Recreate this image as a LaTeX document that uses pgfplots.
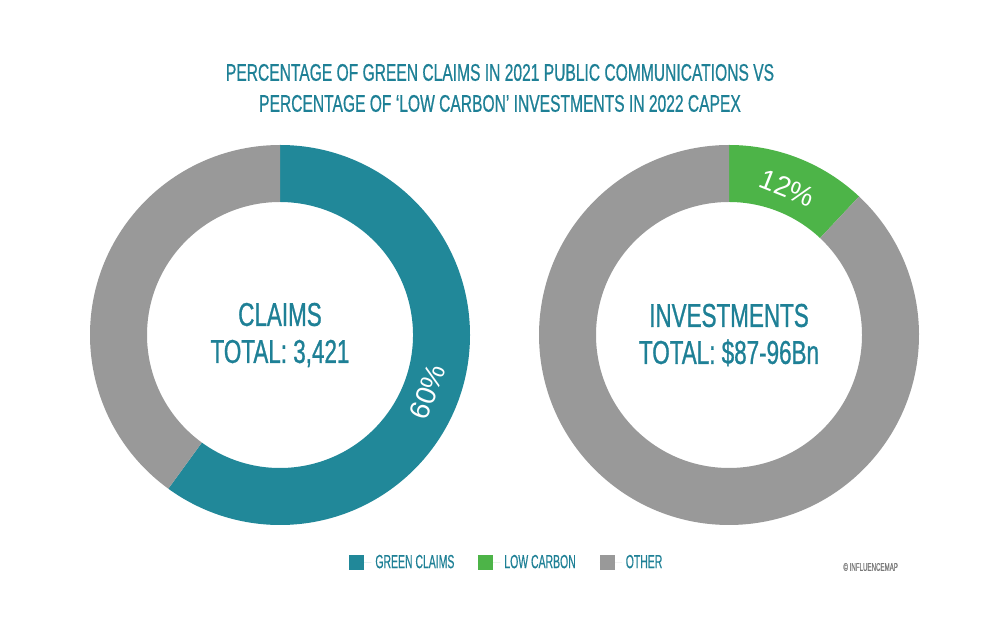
\documentclass[border=0pt]{standalone}
\usepackage{pgfplots}
\pgfplotsset{compat=1.18}
\usepackage{fontspec}
\setmainfont{Liberation Sans}
\newfontfamily\titlefont[FakeStretch=0.65, FakeBold=0.6]{Liberation Sans}
\newfontfamily\centerfont[FakeStretch=0.68, FakeBold=0.8]{Liberation Sans}
\newfontfamily\legendfont[FakeStretch=0.55, FakeBold=0.4]{Liberation Sans}
\newfontfamily\pctfont{Liberation Sans}

\definecolor{imteal}{RGB}{33,136,153}
\definecolor{imtitle}{RGB}{30,128,150}
\definecolor{imgreen}{RGB}{77,180,72}
\definecolor{imgray}{RGB}{153,153,153}

% shares, in percent of each total
\def\claimsGreen{60}
\def\capexLow{12}

% one ring segment between two cumulative percentages, clockwise from 12 o'clock
% #1,#2 centre (axis units), #3 from %, #4 to %, #5 colour
\newcommand\ringslice[5]{%
  \fill[#5, shift={(axis cs:#1,#2)}]
    ({90-3.6*#3}:95pt) arc[start angle={90-3.6*#3}, end angle={90-3.6*#4}, radius=95pt]
    -- ({90-3.6*#4}:66.5pt) arc[start angle={90-3.6*#4}, end angle={90-3.6*#3}, radius=66.5pt]
    -- cycle;}

\begin{document}
\begin{tikzpicture}
\begin{axis}[
  scale only axis, width=500pt, height=315.5pt,
  xmin=0, xmax=1000, ymin=0, ymax=631,
  hide axis, clip=false,
  legend image code/.code={\fill[#1] (0pt,-3.75pt) rectangle (7.5pt,3.75pt); \path (0pt,0pt) -- (11pt,0pt);},
  legend style={at={(axis cs:349,68)}, anchor=west, draw=none, fill=none,
    legend columns=-1, inner sep=0pt,
    font=\legendfont\fontsize{9.5}{9.5}\selectfont, text=imtitle,
    nodes={inner sep=2pt},
    /tikz/every even column/.append style={column sep=10pt}},
  legend cell align=left,
]
\fill[white] (rel axis cs:0,0) rectangle (rel axis cs:1,1);

% claims ring
\ringslice{280}{296}{0}{\claimsGreen}{imteal}
\ringslice{280}{296}{\claimsGreen}{100}{imgray}
% capex ring
\ringslice{729}{296}{0}{\capexLow}{imgreen}
\ringslice{729}{296}{\capexLow}{100}{imgray}

% segment labels
\node[text=white, font=\pctfont\fontsize{14}{14}\selectfont, rotate={180-3.6*\claimsGreen/2-3}]
  at ([shift={({90-3.6*\claimsGreen/2-3}:79pt)}]axis cs:280,296) {\claimsGreen\%};
\node[text=white, font=\pctfont\fontsize{14}{14}\selectfont, rotate={-3.6*\capexLow/2}]
  at ([shift={({90-3.6*\capexLow/2}:79pt)}]axis cs:729,296) {\capexLow\%};

% centre labels
\node[align=center, text=imtitle, font=\centerfont\fontsize{16.5}{18.5}\selectfont]
  at (axis cs:280,296) {CLAIMS\\TOTAL: 3,421};
\node[align=center, text=imtitle, font=\centerfont\fontsize{16.5}{18.5}\selectfont]
  at (axis cs:729,296) {INVESTMENTS\\TOTAL: \$87-96Bn};

% heading
\node[align=center, text=imtitle, font=\titlefont\fontsize{12}{15.5}\selectfont]
  at (axis cs:500,543) {PERCENTAGE OF GREEN CLAIMS IN 2021 PUBLIC COMMUNICATIONS VS\\
  PERCENTAGE OF ‘LOW CARBON’ INVESTMENTS IN 2022 CAPEX};

% source
\node[anchor=east, text=imgray!80!black, font=\legendfont\fontsize{5.6}{5.6}\selectfont]
  at (axis cs:905,64) {© INFLUENCEMAP};

\addlegendimage{fill=imteal, draw=none}
\addlegendentry{GREEN CLAIMS}
\addlegendimage{fill=imgreen, draw=none}
\addlegendentry{LOW CARBON}
\addlegendimage{fill=imgray, draw=none}
\addlegendentry{OTHER}
\end{axis}
\end{tikzpicture}
\end{document}
